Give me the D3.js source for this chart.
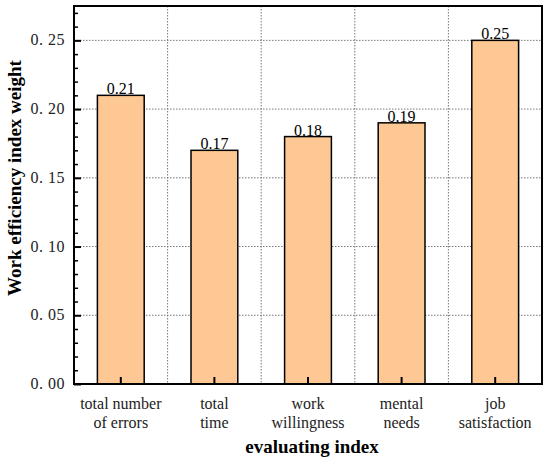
<!DOCTYPE html>
<html>
<head>
<meta charset="utf-8">
<script src="https://cdn.jsdelivr.net/npm/d3@7"></script>
<style>
  body { margin: 0; background: #fff; }
  svg text { font-family: "Liberation Serif", "Times New Roman", serif; }
</style>
</head>
<body>
<svg id="chart" width="550" height="464"></svg>
<script>
//Data
const categories = ["total number|of errors", "total|time", "work|willingness", "mental|needs", "job|satisfaction"];
const weights = [0.21, 0.17, 0.18, 0.19, 0.25];
const yTicks = [0, 0.05, 0.10, 0.15, 0.20, 0.25];

//Plot area (px)
let margin = {left: 74, top: 6, right: 8, bottom: 80};
let width = 550 - margin.left - margin.right;
let height = 464 - margin.top - margin.bottom;
let serif = "Liberation Serif";

let svg = d3.select("#chart");
let g = svg.append("g").attr("transform", `translate(${margin.left},${margin.top})`);

//Scales
let xScale = d3.scaleBand().domain(categories).range([0, width]).paddingInner(0.5).paddingOuter(0.25);
let yScale = d3.scaleLinear().domain([0, 0.275]).range([height, 0]);

//Grid lines (dotted)
let step = xScale.step();
g.append("g")
  .selectAll("line")
  .data(categories.slice(1))
  .enter()
  .append("line")
  .attr("x1", (d) => xScale(d) - step * 0.25)
  .attr("x2", (d) => xScale(d) - step * 0.25)
  .attr("y1", 0)
  .attr("y2", height)
  .attr("stroke", "#777")
  .attr("stroke-width", 1)
  .attr("stroke-dasharray", "1.5,1.5");

g.append("g")
  .selectAll("line")
  .data(yTicks.slice(1))
  .enter()
  .append("line")
  .attr("x1", 0)
  .attr("x2", width)
  .attr("y1", (d) => yScale(d))
  .attr("y2", (d) => yScale(d))
  .attr("stroke", "#777")
  .attr("stroke-width", 1)
  .attr("stroke-dasharray", "1.5,1.5");

//Bars
g.append("g")
  .selectAll("rect")
  .data(weights)
  .enter()
  .append("rect")
  .attr("x", (d, i) => xScale(categories[i]))
  .attr("y", (d) => yScale(d))
  .attr("width", xScale.bandwidth())
  .attr("height", (d) => height - yScale(d))
  .attr("fill", "#FDC894")
  .attr("stroke", "#000")
  .attr("stroke-width", 1.5);

//Value labels
g.append("g")
  .selectAll("text")
  .data(weights)
  .enter()
  .append("text")
  .attr("x", (d, i) => xScale(categories[i]) + xScale.bandwidth() / 2)
  .attr("y", (d) => yScale(d) - 1)
  .attr("text-anchor", "middle")
  .attr("font-family", serif)
  .attr("font-size", 16)
  .attr("fill", "#000")
  .text((d) => d.toFixed(2));

//Y axis (ticks inward)
let yAxis = g.append("g")
  .call(d3.axisRight(yScale).tickValues(yTicks).tickSize(7).tickFormat(""));
yAxis.select(".domain").remove();
yAxis.selectAll("line").attr("stroke", "#000").attr("stroke-width", 2);

let minorTicks = d3.range(0, 28).map((i) => i / 100).filter((v) => Math.round(v * 100) % 5 !== 0);
let yMinor = g.append("g")
  .call(d3.axisRight(yScale).tickValues(minorTicks).tickSize(4).tickFormat(""));
yMinor.select(".domain").remove();
yMinor.selectAll("line").attr("stroke", "#000").attr("stroke-width", 1.5);

//Y tick labels
g.append("g")
  .selectAll("text")
  .data(yTicks)
  .enter()
  .append("text")
  .attr("x", -9)
  .attr("y", (d) => yScale(d) + 5)
  .attr("text-anchor", "end")
  .attr("font-family", serif)
  .attr("font-size", 16)
  .attr("letter-spacing", 0.5)
  .attr("fill", "#222")
  .text((d) => d.toFixed(2).replace(".", ". "));

//X axis ticks (inward)
let xAxis = g.append("g")
  .attr("transform", `translate(0,${height})`)
  .call(d3.axisTop(xScale).tickSize(7).tickFormat(""));
xAxis.select(".domain").remove();
xAxis.selectAll("line").attr("stroke", "#000").attr("stroke-width", 2);

//X category labels (two lines)
let catLabels = g.append("g")
  .selectAll("text")
  .data(categories)
  .enter()
  .append("text")
  .attr("text-anchor", "middle")
  .attr("font-family", serif)
  .attr("font-size", 16)
  .attr("fill", "#222");
catLabels.each(function (d) {
  let lines = d.split("|");
  let x = xScale(d) + xScale.bandwidth() / 2;
  lines.forEach((line, k) => {
    d3.select(this).append("tspan")
      .attr("x", x)
      .attr("y", height + 25 + k * 19)
      .text(line);
  });
});

//Frame
g.append("rect")
  .attr("x", 0)
  .attr("y", 0)
  .attr("width", width)
  .attr("height", height)
  .attr("fill", "none")
  .attr("stroke", "#000")
  .attr("stroke-width", 2);

//Axis titles
svg.append("text")
  .attr("x", margin.left + width / 2 + 4)
  .attr("y", 453)
  .attr("text-anchor", "middle")
  .attr("font-family", serif)
  .attr("font-size", 19)
  .attr("font-weight", "bold")
  .text("evaluating index");

svg.append("text")
  .attr("transform", `translate(21,${margin.top + 172}) rotate(-90)`)
  .attr("text-anchor", "middle")
  .attr("font-family", serif)
  .attr("font-size", 19)
  .attr("font-weight", "bold")
  .text("Work efficiency index weight");
</script>
</body>
</html>
